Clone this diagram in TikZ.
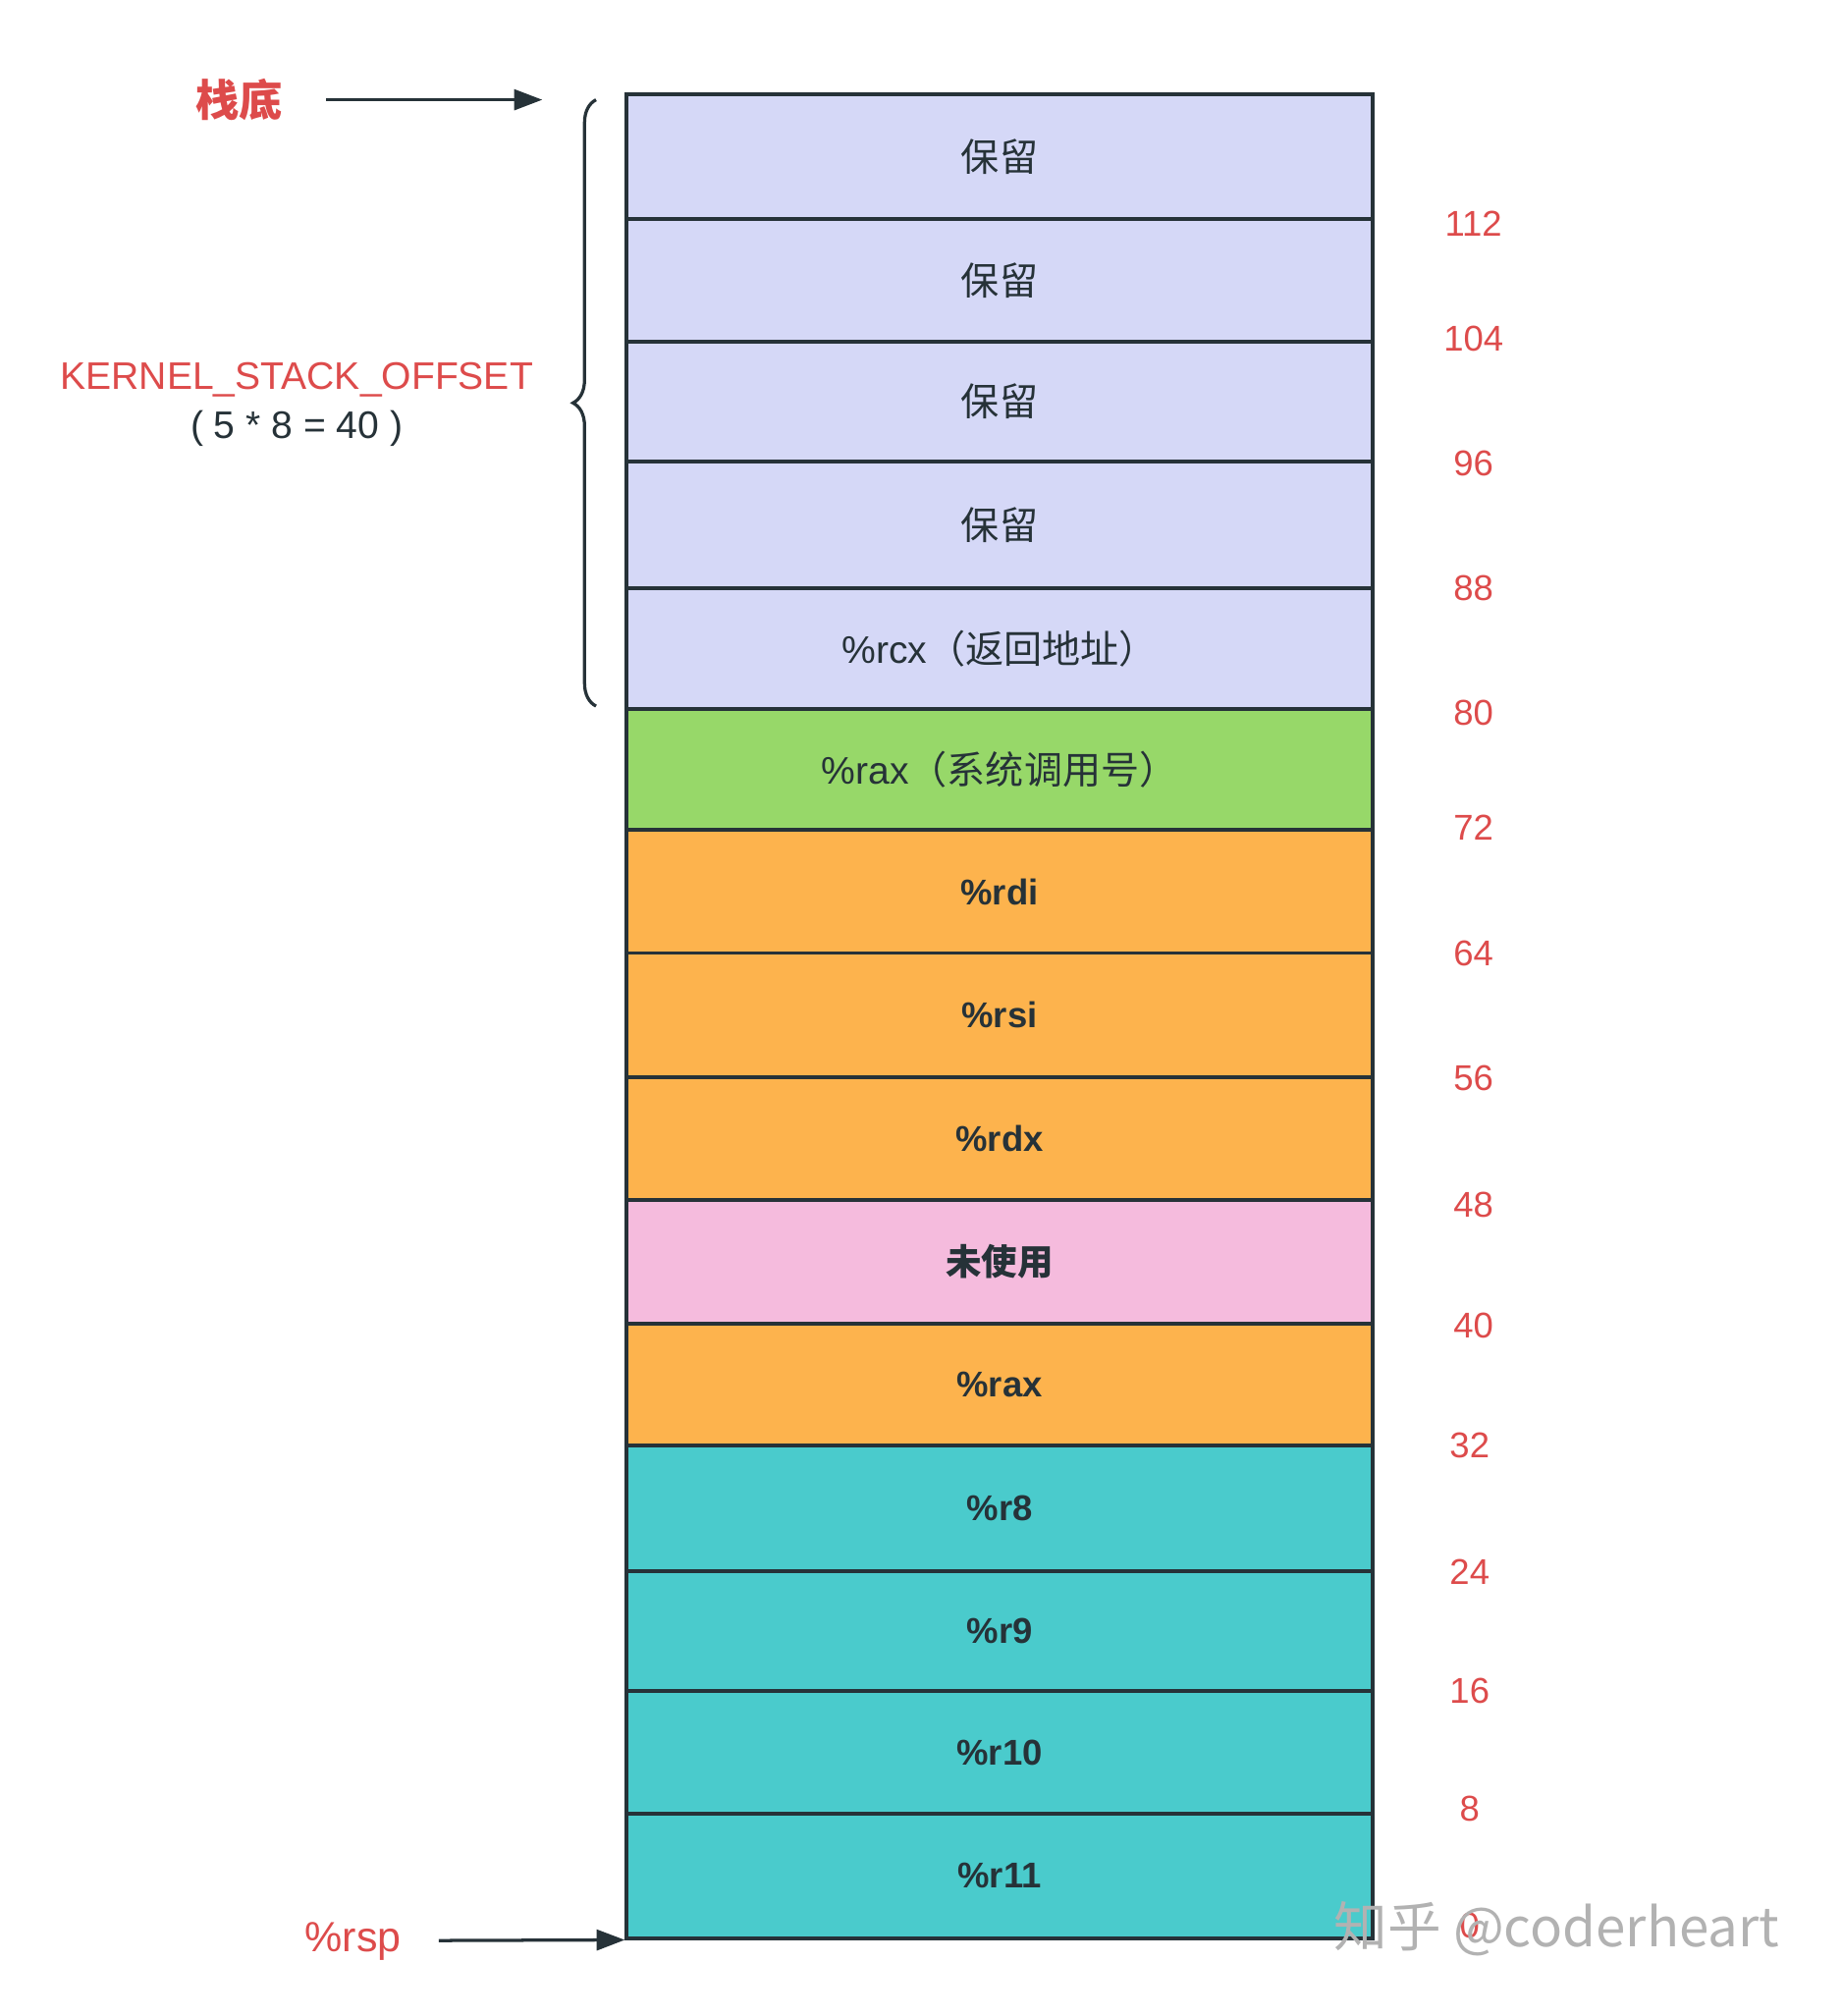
\documentclass[tikz,border=0pt]{standalone}
\usepackage{fontspec}
\setmainfont{Liberation Sans}
\newfontfamily\cjk{Noto Sans CJK SC}
\usetikzlibrary{arrows.meta,decorations.pathreplacing}
\definecolor{lav}{HTML}{D5D8F7}
\definecolor{grn}{HTML}{97D869}
\definecolor{org}{HTML}{FDB34D}
\definecolor{pnk}{HTML}{F5BBDD}
\definecolor{tea}{HTML}{4ACBCC}
\definecolor{rd}{HTML}{DD4B4B}
\definecolor{ink}{HTML}{263238}
\begin{document}
\begin{tikzpicture}[x=1pt,y=-1pt,
  cell/.style={draw=ink,line width=3pt,minimum width=583pt,inner sep=0pt,font=\fontsize{30}{32}\selectfont,text=ink},
  lbl/.style={text=rd,font=\fontsize{28}{32}\selectfont},
  arr/.style={draw=ink,line width=2.5pt,-{Triangle[length=22pt,width=16pt]}}]
\useasboundingbox (0,0) rectangle (1440,1576);
\def\rows{74/171/lav/{\cjk 保留}/r1/0,171/267/lav/{\cjk 保留}/r2/0,267/361/lav/{\cjk 保留}/r3/0,361/460/lav/{\cjk 保留}/r4/0,460/554/lav/{\%rcx{\cjk （返回地址）}}/r5/0,554/649/grn/{\%rax{\cjk （系统调用号）}}/r6/0,649/745/org/\%rdi/r7/1,745/842/org/\%rsi/r8/1,842/938/org/\%rdx/r9/1,938/1035/pnk/{\cjk 未使用}/r10/1,1035/1130/org/\%rax/r11/1,1130/1228/tea/\%r8/r12/1,1228/1322/tea/\%r9/r13/1,1322/1418/tea/\%r10/r14/1,1418/1515/tea/\%r11/r15/1}
\foreach \a/\b/\c/\t/\n/\bf in \rows {
  \pgfmathsetmacro\h{\b-\a}
  \pgfmathsetmacro\m{(\a+\b)/2}
  \ifnum\bf=1
  \node[cell,fill=\c,minimum height=\h pt,font=\fontsize{28}{32}\selectfont\bfseries] (\n) at (781.5,\m) {\t};
  \else
  \node[cell,fill=\c,minimum height=\h pt] (\n) at (781.5,\m) {\t};
  \fi
}
\foreach \v/\y/\x in {112/175/1152,104/265/1152,96/362/1152,88/460/1152,80/557/1152,72/647/1152,64/745/1152,56/843/1152,48/942/1152,40/1036/1152,32/1130/1149,24/1229/1149,16/1322/1149,8/1414/1149,0/1505/1149}
  \node[lbl] (l\v) at (\x,\y) {\v};
\node[text=rd,font=\fontsize{34}{36}\selectfont\cjk\bfseries] (bot) at (187,78) {栈底};
\coordinate (bota) at (424,78);
\draw[arr] (255,78) -- (bota);
\node[text=rd,font=\fontsize{33}{36}\selectfont] (rsp) at (276,1518) {\%rsp};
\draw[arr] (343,1517) -- (r15.south west);
\coordinate (b1) at (466,78);
\coordinate (b2) at (466,552);
\draw[ink,line width=2.5pt,decoration={brace,mirror,amplitude=18pt},decorate] (b1) -- (b2);
\node[text=rd,font=\fontsize{30}{32}\selectfont] (kso) at (232,297) {KERNEL\_STACK\_OFFSET};
\node[text=ink,font=\fontsize{30}{32}\selectfont] (eq) at (232,335) {( 5 * 8 = 40 )};
\node[text=gray!60,font=\fontsize{42}{46}\selectfont\cjk] (wm) at (1217,1508) {知乎 @coderheart};
\end{tikzpicture}
\end{document}
